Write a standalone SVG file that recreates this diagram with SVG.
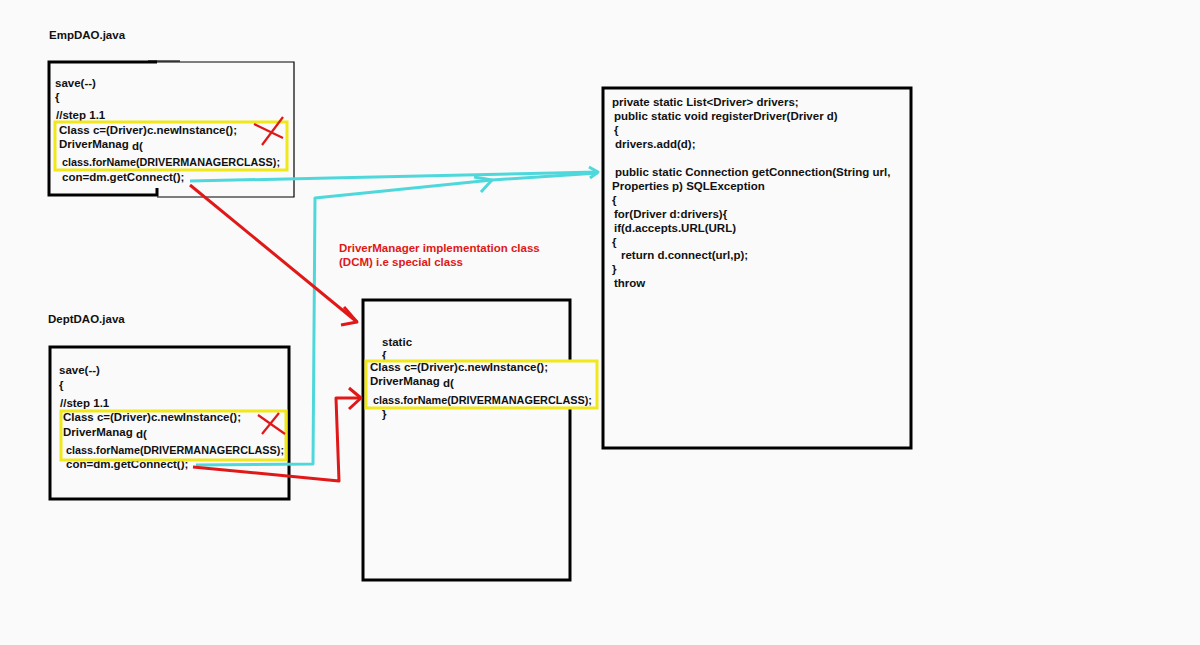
<svg xmlns="http://www.w3.org/2000/svg" width="1200" height="645" viewBox="0 0 1200 645">
<style>
text{font-family:"Liberation Sans",Arial,sans-serif;font-weight:bold;font-size:11.5px;fill:#111}
.red{fill:#e01818}
.box{fill:none;stroke:#000;stroke-width:3}
.thin{fill:none;stroke:#000;stroke-width:1.2}
.yb{fill:none;stroke:#f0e81a;stroke-width:3}
.x{stroke:#e01818;stroke-width:2.2;fill:none}
.cy{fill:none;stroke:#4ed8dc;stroke-width:3;stroke-linejoin:round}
.rd{fill:none;stroke:#e01818;stroke-width:3;stroke-linejoin:round}
</style>
<rect width="1200" height="645" fill="#fafafa"/>

<g id="empdao">
<text x="49" y="39">EmpDAO.java</text>
<path class="box" d="M157,62 H49 V195 H157 V188"/>
<path class="thin" d="M157,62 H294 V197 H157"/>
<path class="thin" d="M148,61 H180"/>
<text x="55" y="87">save(--)</text>
<text x="55" y="101">{</text>
<text x="56" y="119">//step 1.1</text>
<text x="59" y="134">Class c=(Driver)c.newInstance();</text>
<text x="59" y="148">DriverManag</text>
<text x="132" y="150">d(</text>
<text x="62" y="166" textLength="218" lengthAdjust="spacingAndGlyphs">class.forName(DRIVERMANAGERCLASS);</text>
<text x="62" y="181">con=dm.getConnect();</text>
<rect class="yb" x="55" y="122" width="232" height="48"/>
<path class="x" d="M254,124 L283,138 M283,117 L262,145"/>
</g>

<g id="deptdao">
<text x="48" y="323">DeptDAO.java</text>
<rect class="box" x="50" y="347" width="239" height="152"/>
<text x="59" y="374">save(--)</text>
<text x="59" y="389">{</text>
<text x="60" y="407">//step 1.1</text>
<text x="63" y="421">Class c=(Driver)c.newInstance();</text>
<text x="63" y="436">DriverManag</text>
<text x="136" y="438">d(</text>
<text x="66" y="454" textLength="218" lengthAdjust="spacingAndGlyphs">class.forName(DRIVERMANAGERCLASS);</text>
<text x="66" y="468">con=dm.getConnect();</text>
<rect class="yb" x="61" y="411" width="225" height="49"/>
<path class="x" d="M258,415 L285,434 M279,413 L262,434"/>
</g>

<g id="dcm-label">
<text class="red" x="339" y="252">DriverManager implementation class</text>
<text class="red" x="339" y="266">(DCM) i.e special class</text>
</g>

<g id="dcm">
<rect class="box" x="363" y="300" width="207" height="280"/>
<text x="382" y="346">static</text>
<text x="382" y="359">{</text>
<rect x="366" y="361" width="231" height="47" fill="#fafafa" stroke="#f0e81a" stroke-width="3"/>
<text x="370" y="371">Class c=(Driver)c.newInstance();</text>
<text x="370" y="385">DriverManag</text>
<text x="443" y="387">d(</text>
<text x="373" y="404" textLength="219" lengthAdjust="spacingAndGlyphs">class.forName(DRIVERMANAGERCLASS);</text>
<text x="382" y="418">}</text>
</g>

<g id="drivermanager">
<rect class="box" x="603" y="88" width="308" height="360"/>
<text x="612" y="106">private static List&lt;Driver&gt; drivers;</text>
<text x="614" y="120">public static void registerDriver(Driver d)</text>
<text x="614" y="134">{</text>
<text x="615" y="148">drivers.add(d);</text>
<text x="615" y="176">public static Connection getConnection(String url,</text>
<text x="612" y="190">Properties p) SQLException</text>
<text x="612" y="204">{</text>
<text x="614" y="218">for(Driver d:drivers){</text>
<text x="614" y="232">if(d.accepts.URL(URL)</text>
<text x="612" y="246">{</text>
<text x="621" y="259">return d.connect(url,p);</text>
<text x="612" y="273">}</text>
<text x="614" y="287">throw</text>
</g>

<g id="connectors">
<path class="cy" d="M190,181 L330,178 L598,172"/>
<path class="cy" d="M589,167 L598,172 L590,178"/>
<path class="cy" d="M196,465 L313,464 L315,198 L492,180 L598,173"/>
<path class="cy" d="M474,177 L492,180 L481,192"/>
<path class="rd" d="M190,185 L357,322"/>
<path class="rd" d="M344,307 L357,322 L341,325"/>
<path class="rd" d="M193,467 L339,481 L336,398 L361,398"/>
<path class="rd" d="M349,388 L361,398 L349,409"/>
</g>
</svg>
